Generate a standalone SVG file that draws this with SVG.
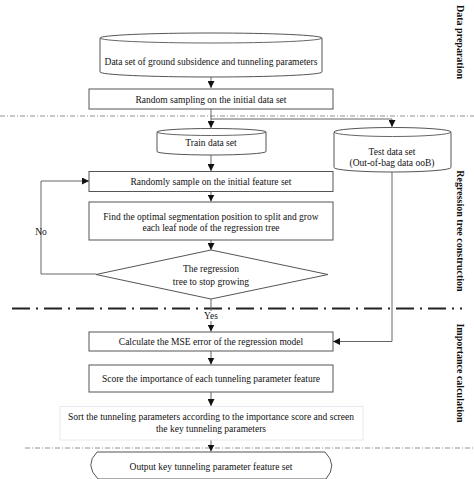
<svg xmlns="http://www.w3.org/2000/svg" width="474" height="479" viewBox="0 0 474 479">
<defs>
<marker id="ah" viewBox="0 0 10 10" refX="10" refY="5" markerWidth="7" markerHeight="7" markerUnits="userSpaceOnUse" orient="auto">
<path d="M0,0 L10,5 L0,10 z" fill="#111"/>
</marker>
</defs>
<style>
.n{fill:#fff;stroke:#555;stroke-width:1}
.c{fill:none;stroke:#666;stroke-width:1}
.t{font-family:"Liberation Serif","Times New Roman",serif;font-size:9.5px;fill:#111;text-anchor:middle}
.lab{font-family:"Liberation Serif","Times New Roman",serif;font-size:10px;font-weight:bold;fill:#111;text-anchor:middle}
.sep{fill:none;stroke:#777;stroke-width:0.8;stroke-dasharray:5,2,1,2}
.sep2{fill:none;stroke:#222;stroke-width:1.8;stroke-dasharray:18,6,2,6}
</style>
<rect width="474" height="479" fill="#fff"/>
<g id="separators">
<line class="sep" x1="0" y1="116" x2="474" y2="116"/>
<line class="sep2" x1="12" y1="308.5" x2="462" y2="308.5"/>
<line class="sep" x1="25" y1="448" x2="474" y2="448"/>
</g>
<g id="labels">
<text class="lab" transform="translate(457,42) rotate(90)">Data preparation</text>
<text class="lab" transform="translate(457,231) rotate(90)">Regression tree construction</text>
<text class="lab" transform="translate(457,373) rotate(90)">Importance calculation</text>
</g>
<g id="connectors">
<line class="c" x1="211" y1="77" x2="211" y2="88" marker-end="url(#ah)"/>
<polyline class="c" points="211,109 211,119 392,119 392,127" marker-end="url(#ah)"/>
<line class="c" x1="211" y1="119" x2="211" y2="128" marker-end="url(#ah)"/>
<line class="c" x1="211" y1="155" x2="211" y2="171" marker-end="url(#ah)"/>
<line class="c" x1="211" y1="191" x2="211" y2="201.5" marker-end="url(#ah)"/>
<line class="c" x1="211" y1="240" x2="211" y2="250" marker-end="url(#ah)"/>
<polyline class="c" points="96,274 41,274 41,181 89,181" marker-end="url(#ah)"/>
<line class="c" x1="211" y1="299" x2="211" y2="311"/>
<line class="c" x1="211" y1="321" x2="211" y2="331.5" marker-end="url(#ah)"/>
<polyline class="c" points="392,172 392,341.5 333,341.5" marker-end="url(#ah)"/>
<line class="c" x1="211" y1="351" x2="211" y2="364.5" marker-end="url(#ah)"/>
<line class="c" x1="211" y1="392" x2="211" y2="406" marker-end="url(#ah)"/>
<line class="c" x1="211" y1="440" x2="211" y2="451.5" marker-end="url(#ah)"/>
<text class="t" x="41" y="235">No</text>
<text class="t" x="211" y="319">Yes</text>
</g>
<g id="n1">
<path class="n" d="M100,38 A111,5 0 0 1 322,38 L322,72 A111,5 0 0 1 100,72 Z"/>
<path class="c" d="M100,38 A111,5 0 0 0 322,38" stroke="#555"/>
<text class="t" x="211" y="65">Data set of ground subsidence and tunneling parameters</text>
</g>
<g id="n2">
<rect class="n" x="89" y="89" width="244" height="20"/>
<text class="t" x="211" y="102.5">Random sampling on the initial data set</text>
</g>
<g id="n3">
<path class="n" d="M157,132 A54.5,3.5 0 0 1 266,132 L266,151.5 A54.5,3.5 0 0 1 157,151.5 Z"/>
<path class="c" d="M157,132 A54.5,3.5 0 0 0 266,132" stroke="#555"/>
<text class="t" x="211" y="146">Train data set</text>
</g>
<g id="n4">
<path class="n" d="M334,132 A58.5,4.5 0 0 1 451,132 L451,167.5 A58.5,4.5 0 0 1 334,167.5 Z"/>
<path class="c" d="M334,132 A58.5,4.5 0 0 0 451,132" stroke="#555"/>
<text class="t" x="392" y="155">Test data set</text>
<text class="t" x="392" y="166">(Out-of-bag data ooB)</text>
</g>
<g id="n5">
<rect class="n" x="89" y="171.5" width="244" height="20"/>
<text class="t" x="211" y="184.5">Randomly sample on the initial feature set</text>
</g>
<g id="n6">
<rect class="n" x="89" y="202" width="244" height="38"/>
<text class="t" x="211" y="219.5">Find the optimal segmentation position to split and grow</text>
<text class="t" x="211" y="231">each leaf node of the regression tree</text>
</g>
<g id="n7">
<polygon class="n" points="211,250 328,274.5 211,299 96,274.5"/>
<text class="t" x="211" y="272">The regression</text>
<text class="t" x="211" y="284.5">tree to stop growing</text>
</g>
<g id="n8">
<rect class="n" x="89" y="332" width="244" height="19"/>
<text class="t" x="211" y="345">Calculate the MSE error of the regression model</text>
</g>
<g id="n9">
<rect class="n" x="89" y="365" width="244" height="27"/>
<text class="t" x="211" y="382">Score the importance of each tunneling parameter feature</text>
</g>
<g id="n10">
<rect x="60" y="406.5" width="303" height="33.5" fill="#fff" stroke="#e6eaf0" stroke-width="1"/>
<text class="t" x="211" y="419.5">Sort the tunneling parameters according to the importance score and screen</text>
<text class="t" x="211" y="432">the key tunneling parameters</text>
</g>
<g id="n11">
<path class="n" d="M97,452 L325,452 Q338,465 326,479 L98,479 Q84,465 97,452 Z"/>
<text class="t" x="211" y="469.5">Output key tunneling parameter feature set</text>
</g>
</svg>
